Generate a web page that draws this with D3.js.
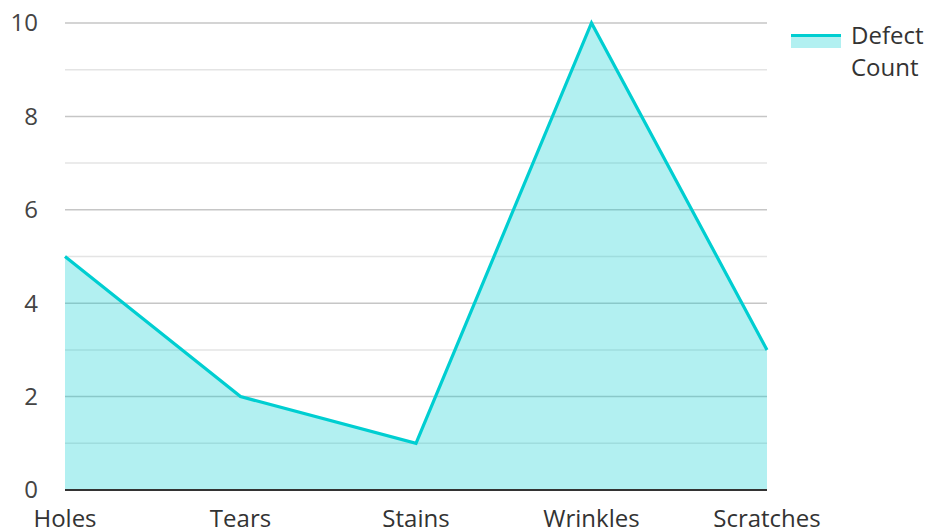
<!DOCTYPE html>
<html><head><meta charset="utf-8">
<script src="https://cdn.jsdelivr.net/npm/d3@7"></script>
<style>body{margin:0;background:#fff;}svg{display:block;font-family:"Open Sans",sans-serif;}</style>
</head><body><svg id="c" width="929" height="531"></svg>
<script>
const categories = ["Holes","Tears","Stains","Wrinkles","Scratches"];
const values = [5,2,1,10,3];
const yTicks = [0,2,4,6,8,10];
const minorTicks = [1,3,5,7,9];
const seriesName = ["Defect","Count"];

const svg = d3.select("#c");
const m = {l:65, r:767, t:23, b:490};
const x = d3.scalePoint().domain(categories).range([m.l, m.r]);
const y = d3.scaleLinear().domain([0,10]).range([m.b, m.t]);

svg.append("g").selectAll("line").data(minorTicks).join("line")
  .attr("x1", m.l).attr("x2", m.r).attr("y1", d=>y(d)).attr("y2", d=>y(d))
  .attr("stroke", "#e4e4e4").attr("stroke-width", 1.5);
svg.append("g").selectAll("line").data(yTicks.filter(d=>d>0)).join("line")
  .attr("x1", m.l).attr("x2", m.r).attr("y1", d=>y(d)).attr("y2", d=>y(d))
  .attr("stroke", "#c6c6c6").attr("stroke-width", 1.5);

const data = categories.map((c,i)=>({c, v:values[i]}));
svg.append("path").datum(data)
  .attr("d", d3.area().x(d=>x(d.c)).y0(y(0)).y1(d=>y(d.v)))
  .attr("fill", "#00ced1").attr("fill-opacity", 0.3);
svg.append("path").datum(data)
  .attr("d", d3.line().x(d=>x(d.c)).y(d=>y(d.v)))
  .attr("fill", "none").attr("stroke", "#00ced1").attr("stroke-width", 3.2);

svg.append("line").attr("x1", m.l).attr("x2", m.r).attr("y1", y(0)).attr("y2", y(0))
  .attr("stroke", "#333").attr("stroke-width", 2);

svg.append("g").selectAll("text").data(yTicks).join("text")
  .attr("x", 38).attr("y", d=>y(d)).attr("dy", "0.35em").attr("text-anchor", "end")
  .attr("font-size", 24).attr("fill", "#444").text(d=>d);

svg.append("g").selectAll("text").data(categories).join("text")
  .attr("x", d=>x(d)).attr("y", 527).attr("text-anchor", "middle")
  .attr("font-size", 24).attr("fill", "#333").text(d=>d);

const lg = svg.append("g");
lg.append("rect").attr("x", 791).attr("y", 34).attr("width", 50).attr("height", 14)
  .attr("fill", "#00ced1").attr("fill-opacity", 0.3);
lg.append("line").attr("x1", 791).attr("x2", 841).attr("y1", 35.5).attr("y2", 35.5)
  .attr("stroke", "#00ced1").attr("stroke-width", 3);
lg.selectAll("text").data(seriesName).join("text")
  .attr("x", 851).attr("y", (d,i)=>44 + i*32).attr("font-size", 24).attr("fill", "#333").text(d=>d);
</script></body></html>
